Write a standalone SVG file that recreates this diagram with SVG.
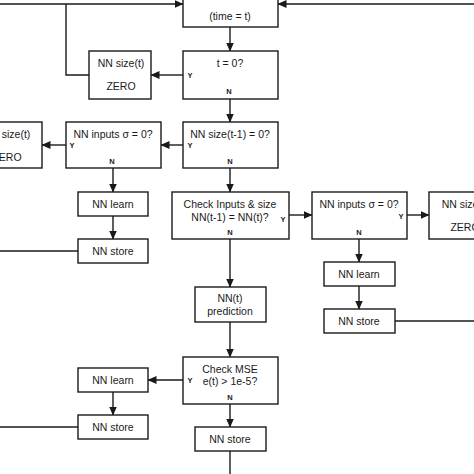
<svg xmlns="http://www.w3.org/2000/svg" width="474" height="474" viewBox="0 0 474 474">
<defs>
<marker id="ah" markerWidth="9" markerHeight="8" refX="8.5" refY="4" orient="auto" markerUnits="userSpaceOnUse">
<path d="M0,0 L9,4 L0,8 Z" fill="#1a1a1a"/>
</marker>
<style>
rect{fill:#fff;stroke:#1a1a1a;stroke-width:1.4}
text{font-family:"Liberation Sans",Arial,sans-serif;font-size:10.5px;fill:#1a1a1a;text-anchor:middle}
text.yn{font-size:7.5px;font-weight:bold}
#connectors path{fill:none;stroke:#1a1a1a;stroke-width:1.4}
.arr{marker-end:url(#ah)}
</style>
</defs>
<rect x="0" y="0" width="474" height="474" style="fill:#fff;stroke:none"/>
<g id="connectors">
<path class="arr" d="M0,4 H183"/>
<path class="arr" d="M474,4 H278"/>
<path d="M89,75 H66 V4"/>
<path class="arr" d="M230,27 V51"/>
<path class="arr" d="M183,75 H151"/>
<path class="arr" d="M230,99 V122"/>
<path class="arr" d="M183,145 H161"/>
<path class="arr" d="M66,145 H42"/>
<path class="arr" d="M113,168 V192"/>
<path class="arr" d="M113,216 V239"/>
<path d="M78,251 H0"/>
<path class="arr" d="M230,168 V192"/>
<path class="arr" d="M289,215 H312"/>
<path class="arr" d="M407,215 H429"/>
<path class="arr" d="M359,239 V262"/>
<path class="arr" d="M359,286 V309"/>
<path d="M395,321 H474"/>
<path class="arr" d="M230,239 V287"/>
<path class="arr" d="M230,322 V357"/>
<path class="arr" d="M183,380 H148"/>
<path class="arr" d="M113,392 V415"/>
<path d="M78,427 H0"/>
<path class="arr" d="M230,404 V427"/>
<path d="M230,451 V474"/>
</g>
<g id="time">
<rect x="183" y="-20" width="95" height="47"/>
<text x="230" y="20">(time = t)</text>
</g>
<g id="t0">
<rect x="183" y="51" width="95" height="48"/>
<text x="230" y="67">t = 0?</text>
<text class="yn" x="190" y="78">Y</text>
<text class="yn" x="229" y="94">N</text>
</g>
<g id="zero1">
<rect x="89" y="51" width="62" height="48"/>
<text x="121" y="67">NN size(t)</text>
<text x="121" y="90">ZERO</text>
</g>
<g id="size0">
<rect x="183" y="122" width="95" height="46"/>
<text x="230" y="138">NN size(t-1) = 0?</text>
<text class="yn" x="190" y="148">Y</text>
<text class="yn" x="230" y="164">N</text>
</g>
<g id="sigmaL">
<rect x="66" y="122" width="95" height="46"/>
<text x="113" y="138">NN inputs σ = 0?</text>
<text class="yn" x="72" y="148">Y</text>
<text class="yn" x="112" y="164">N</text>
</g>
<g id="zeroL">
<rect x="-20" y="122" width="62" height="46"/>
<text x="7" y="138">NN size(t)</text>
<text x="7" y="161">ZERO</text>
</g>
<g id="learnL1">
<rect x="78" y="192" width="70" height="24"/>
<text x="113" y="208">NN learn</text>
</g>
<g id="storeL1">
<rect x="78" y="239" width="70" height="24"/>
<text x="113" y="255">NN store</text>
</g>
<g id="check">
<rect x="172" y="192" width="117" height="47"/>
<text x="230" y="208">Check Inputs &amp; size</text>
<text x="230" y="221">NN(t-1) = NN(t)?</text>
<text class="yn" x="283" y="222">Y</text>
<text class="yn" x="230" y="235">N</text>
</g>
<g id="sigmaR">
<rect x="312" y="192" width="95" height="47"/>
<text x="359" y="208">NN inputs σ = 0?</text>
<text class="yn" x="401" y="219">Y</text>
<text class="yn" x="359" y="235">N</text>
</g>
<g id="zeroR">
<rect x="429" y="192" width="62" height="47"/>
<text x="465" y="208">NN size(t)</text>
<text x="465" y="231">ZERO</text>
</g>
<g id="learnR">
<rect x="324" y="262" width="71" height="24"/>
<text x="359" y="278">NN learn</text>
</g>
<g id="storeR">
<rect x="324" y="309" width="71" height="24"/>
<text x="359" y="325">NN store</text>
</g>
<g id="pred">
<rect x="195" y="287" width="71" height="35"/>
<text x="230" y="302">NN(t)</text>
<text x="230" y="315">prediction</text>
</g>
<g id="mse">
<rect x="183" y="357" width="95" height="47"/>
<text x="230" y="373">Check MSE</text>
<text x="230" y="385">e(t) &gt; 1e-5?</text>
<text class="yn" x="190" y="383">Y</text>
<text class="yn" x="230" y="400">N</text>
</g>
<g id="learnL2">
<rect x="78" y="368" width="70" height="24"/>
<text x="113" y="384">NN learn</text>
</g>
<g id="storeL2">
<rect x="78" y="415" width="70" height="24"/>
<text x="113" y="431">NN store</text>
</g>
<g id="storeB">
<rect x="195" y="427" width="71" height="24"/>
<text x="230" y="443">NN store</text>
</g>
</svg>
